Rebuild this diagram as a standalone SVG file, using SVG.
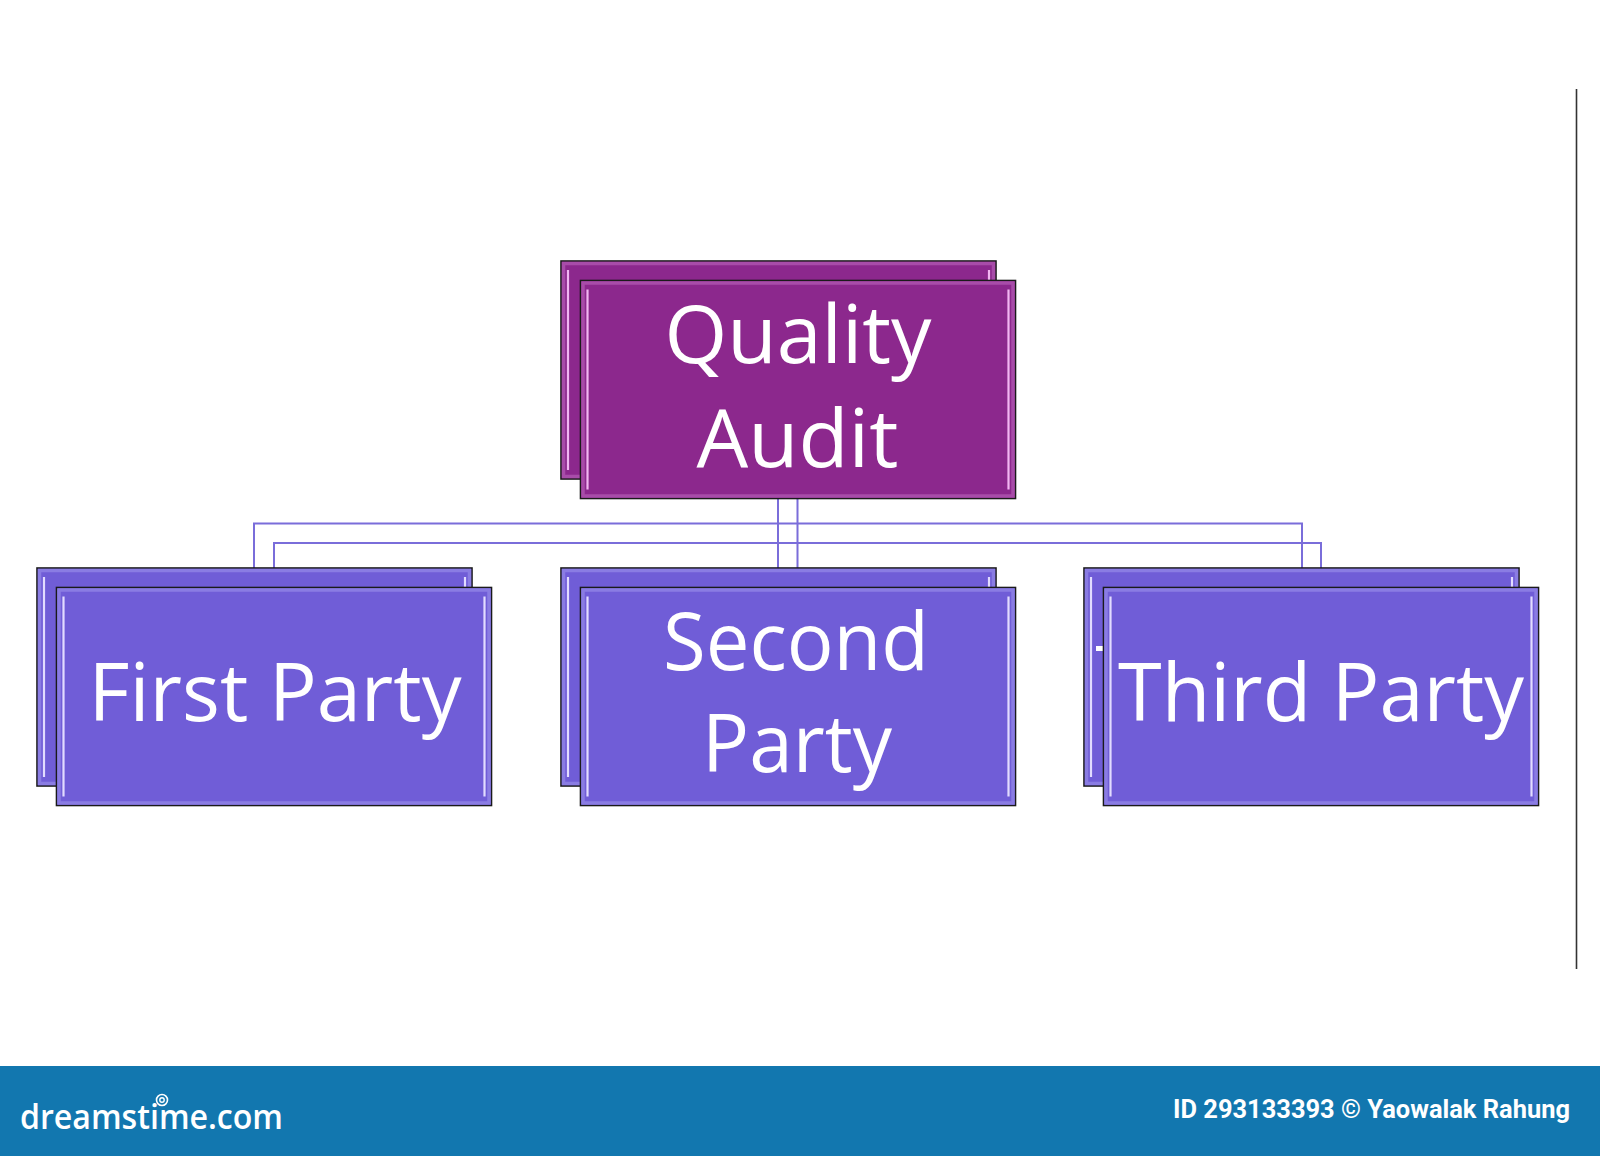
<svg xmlns="http://www.w3.org/2000/svg" width="1600" height="1156" viewBox="0 0 1600 1156">
  <style>
    .box-p { fill: #8C288D; stroke: #1a1a1a; stroke-width: 1.6; }
    .box-b { fill: #705DD7; stroke: #1a1a1a; stroke-width: 1.6; }
    .bev-p { fill: none; stroke: #A84CA9; stroke-width: 3.5; }
    .bev-b { fill: none; stroke: #8A7CE3; stroke-width: 3.5; }
    .hl-p { stroke: #F2B6F2; stroke-width: 2.2; }
    .hl-b { stroke: #E2DCFF; stroke-width: 2.2; }
    .lbl { fill: #ffffff; font-family: "Open Sans", "Noto Sans", sans-serif; font-weight: 500; font-size: 81px; text-anchor: middle; }
    .conn { fill: none; stroke: #7A6DDA; stroke-width: 2; }
  </style>
  <defs>
    <g id="bev-p-shape">
      <rect class="box-p" x="0" y="0" width="435" height="218"/>
      <rect class="bev-p" x="2.5" y="2.5" width="430" height="213"/>
      <line class="hl-p" x1="7" y1="9" x2="7" y2="209"/>
      <line class="hl-p" x1="428" y1="9" x2="428" y2="209"/>
    </g>
    <g id="bev-b-shape">
      <rect class="box-b" x="0" y="0" width="435" height="218"/>
      <rect class="bev-b" x="2.5" y="2.5" width="430" height="213"/>
      <line class="hl-b" x1="7" y1="9" x2="7" y2="209"/>
      <line class="hl-b" x1="428" y1="9" x2="428" y2="209"/>
    </g>
  </defs>

  <rect x="0" y="0" width="1600" height="1156" fill="#ffffff"/>

  <!-- right vertical rule -->
  <line x1="1576.5" y1="89" x2="1576.5" y2="969" stroke="#333333" stroke-width="1.6"/>

  <g id="connectors">
    <path class="conn" d="M778,479 V568 M254,568 V523.5 H1302 V568"/>
    <path class="conn" d="M797.5,498 V588 M274,588 V543 H1321 V588"/>
  </g>

  <g id="node-quality-audit">
    <use href="#bev-p-shape" x="561" y="261"/>
    <use href="#bev-p-shape" x="580.5" y="280.5"/>
    <text class="lbl" x="798" y="363" textLength="267" lengthAdjust="spacingAndGlyphs">Quality</text>
    <text class="lbl" x="797.5" y="466.5" textLength="202" lengthAdjust="spacingAndGlyphs">Audit</text>
  </g>

  <g id="node-first-party">
    <use href="#bev-b-shape" x="37" y="568"/>
    <use href="#bev-b-shape" x="56.5" y="587.5"/>
    <text class="lbl" x="275" y="721" textLength="373" lengthAdjust="spacingAndGlyphs">First Party</text>
  </g>

  <g id="node-second-party">
    <use href="#bev-b-shape" x="561" y="568"/>
    <use href="#bev-b-shape" x="580.5" y="587.5"/>
    <text class="lbl" x="796" y="670" textLength="266" lengthAdjust="spacingAndGlyphs">Second</text>
    <text class="lbl" x="797" y="772" textLength="190" lengthAdjust="spacingAndGlyphs">Party</text>
  </g>

  <g id="node-third-party">
    <use href="#bev-b-shape" x="1084" y="568"/>
    <rect x="1096" y="646" width="8" height="5" fill="#ffffff"/>
    <use href="#bev-b-shape" x="1103.5" y="587.5"/>
    <text class="lbl" x="1321" y="721" textLength="406" lengthAdjust="spacingAndGlyphs">Third Party</text>
  </g>

  <!-- footer bar -->
  <g id="footer">
    <rect x="0" y="1066" width="1600" height="90" fill="#1277AF"/>
    <text x="20" y="1129" fill="#ffffff" font-family="Open Sans, Lato, sans-serif" font-weight="600" font-size="34" textLength="263" lengthAdjust="spacingAndGlyphs">dreamstime.com</text>
    <circle cx="162" cy="1100" r="5.5" fill="none" stroke="#ffffff" stroke-width="1.6"/>
    <circle cx="162" cy="1100" r="2.2" fill="none" stroke="#ffffff" stroke-width="1.4"/>
    <text x="1173" y="1118" fill="#ffffff" font-family="Roboto, Liberation Sans, sans-serif" font-weight="700" font-size="25" textLength="397" lengthAdjust="spacingAndGlyphs">ID 293133393 © Yaowalak Rahung</text>
  </g>
</svg>
